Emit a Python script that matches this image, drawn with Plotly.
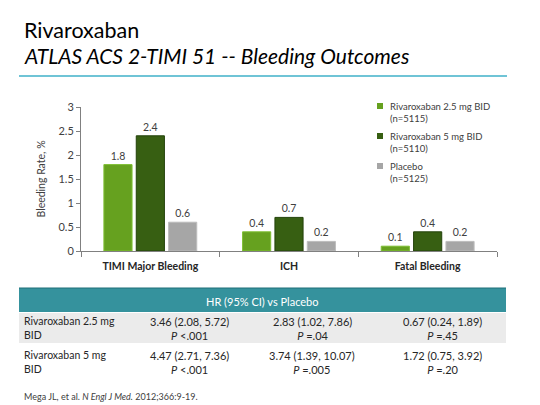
import plotly.graph_objects as go

# chart data
categories = ["TIMI Major Bleeding", "ICH", "Fatal Bleeding"]
riva_25 = [1.8, 0.4, 0.1]
riva_5 = [2.4, 0.7, 0.4]
placebo = [0.6, 0.2, 0.2]
series_names = ["Rivaroxaban 2.5 mg BID<br>(n=5115)",
                "Rivaroxaban 5 mg BID<br>(n=5110)",
                "Placebo<br>(n=5125)"]
y_ticks = [0, 0.5, 1, 1.5, 2, 2.5, 3]

# HR table
table_header = "HR (95% CI) vs Placebo"
row_labels = ["Rivaroxaban 2.5 mg<br>BID", "Rivaroxaban 5 mg<br>BID"]
hr_row1 = ["3.46 (2.08, 5.72)", "2.83 (1.02, 7.86)", "0.67 (0.24, 1.89)"]
p_row1 = ["<i>P</i> <.001", "<i>P</i> =.04", "<i>P</i> =.45"]
hr_row2 = ["4.47 (2.71, 7.36)", "3.74 (1.39, 10.07)", "1.72 (0.75, 3.92)"]
p_row2 = ["<i>P</i> <.001", "<i>P</i> =.005", "<i>P</i> =.20"]

FONT = "Lato, 'Open Sans', sans-serif"
TXT = "#404040"
# page body adds an 8px margin, so the figure is drawn 8px smaller and offset
OFF = 8
W, H = 540 - OFF, 405 - OFF


def px_x(x):
    return (x - OFF) / W


def px_y(y):
    return 1 - (y - OFF) / H


colors = ["#66a11f", "#375f12", "#a6a6a6"]
lines = ["#7fbf33", "#23420a", "#bdbdbd"]

fig = go.Figure()
for name, vals, c, lc in zip(series_names, [riva_25, riva_5, placebo], colors, lines):
    fig.add_trace(go.Bar(
        x=categories, y=vals, name=name,
        marker=dict(color=c, line=dict(color=lc, width=1)),
        text=[f"{v:.1f}" for v in vals], textposition="outside",
        textfont=dict(size=10.5, color=TXT, family=FONT),
        cliponaxis=False, showlegend=False,
    ))

fig.update_layout(
    width=W, height=H,
    margin=dict(l=0, r=0, t=0, b=0, autoexpand=False),
    paper_bgcolor="white", plot_bgcolor="white",
    font=dict(family=FONT, color=TXT),
    barmode="group", bargap=0.3, bargroupgap=0.13,
    xaxis=dict(
        domain=[px_x(81), px_x(497)], automargin=False,
        showline=True, linecolor="#808080", linewidth=1,
        ticks="outside", tickson="boundaries", ticklen=5, tickcolor="#808080",
        tickfont=dict(size=10.5, color="#262626", family=FONT),
        tickprefix="<b>", ticksuffix="</b>", ticklabelstandoff=5,
    ),
    yaxis=dict(
        domain=[px_y(251), px_y(107)], automargin=False,
        range=[0, 3], tickvals=y_ticks, ticktext=[f"{t:g}" for t in y_ticks],
        showgrid=False, zeroline=False,
        showline=True, linecolor="#808080", linewidth=1,
        ticks="outside", ticklen=4, tickcolor="#808080",
        tickfont=dict(size=11, color=TXT, family=FONT),
        title=dict(text="Bleeding Rate, %", font=dict(size=10.5, color=TXT, family=FONT), standoff=10),
    ),
)

# legend (small square keys like the slide)
for i, (name, c) in enumerate(zip(series_names, colors)):
    y1 = 106 + 30 * i
    fig.add_shape(type="rect", xref="paper", yref="paper",
                  x0=px_x(377), x1=px_x(383), y0=px_y(y1 + 3), y1=px_y(y1 - 3),
                  line=dict(width=0), fillcolor=c)
    fig.add_annotation(text=name, x=px_x(388), y=px_y(y1 + 6), xref="paper", yref="paper",
                       xanchor="left", yanchor="middle", align="left", showarrow=False,
                       font=dict(size=9.5, color=TXT, family=FONT))

# titles
fig.add_annotation(text="Rivaroxaban", x=px_x(22), y=px_y(30), xref="paper", yref="paper",
                   xanchor="left", yanchor="middle", showarrow=False,
                   font=dict(size=21.5, color="#000000", family=FONT))
fig.add_annotation(text="<i>ATLAS ACS 2-TIMI 51 -- Bleeding Outcomes</i>", x=px_x(22), y=px_y(55),
                   xref="paper", yref="paper", xanchor="left", yanchor="middle", showarrow=False,
                   font=dict(size=21, color="#000000", family=FONT))
fig.add_shape(type="line", xref="paper", yref="paper", x0=px_x(19), x1=px_x(507),
              y0=px_y(76), y1=px_y(76), line=dict(color="#3fb0c9", width=1.5))

# table
fig.add_shape(type="rect", xref="paper", yref="paper", x0=px_x(19), x1=px_x(506),
              y0=px_y(312), y1=px_y(288), line=dict(width=0), fillcolor="#35929d")
fig.add_shape(type="line", xref="paper", yref="paper", x0=px_x(19), x1=px_x(506),
              y0=px_y(288), y1=px_y(288), line=dict(color="#1f6f78", width=1))
fig.add_shape(type="rect", xref="paper", yref="paper", x0=px_x(19), x1=px_x(506),
              y0=px_y(343), y1=px_y(313), line=dict(width=0), fillcolor="#ebebeb")
fig.add_annotation(text=table_header, x=px_x(262), y=px_y(301), xref="paper", yref="paper",
                   xanchor="center", yanchor="middle", showarrow=False,
                   font=dict(size=11, color="white", family=FONT))

col_x = [189, 312, 442]
for label, hrs, ps, yc in [(row_labels[0], hr_row1, p_row1, 328), (row_labels[1], hr_row2, p_row2, 362)]:
    fig.add_annotation(text=label, x=px_x(22), y=px_y(yc), xref="paper", yref="paper",
                       xanchor="left", yanchor="middle", align="left", showarrow=False,
                       font=dict(size=10.5, color="#262626", family=FONT))
    for cx, hr, p in zip(col_x, hrs, ps):
        fig.add_annotation(text=hr + "<br>" + p, x=px_x(cx), y=px_y(yc), xref="paper", yref="paper",
                           xanchor="center", yanchor="middle", align="center", showarrow=False,
                           font=dict(size=11, color="#262626", family=FONT))

fig.add_annotation(text="Mega JL, et al. <i>N Engl J Med.</i> 2012;366:9-19.", x=px_x(22), y=px_y(396),
                   xref="paper", yref="paper", xanchor="left", yanchor="middle", showarrow=False,
                   font=dict(size=9, color="#404040", family=FONT))

fig.write_html("out.html")
